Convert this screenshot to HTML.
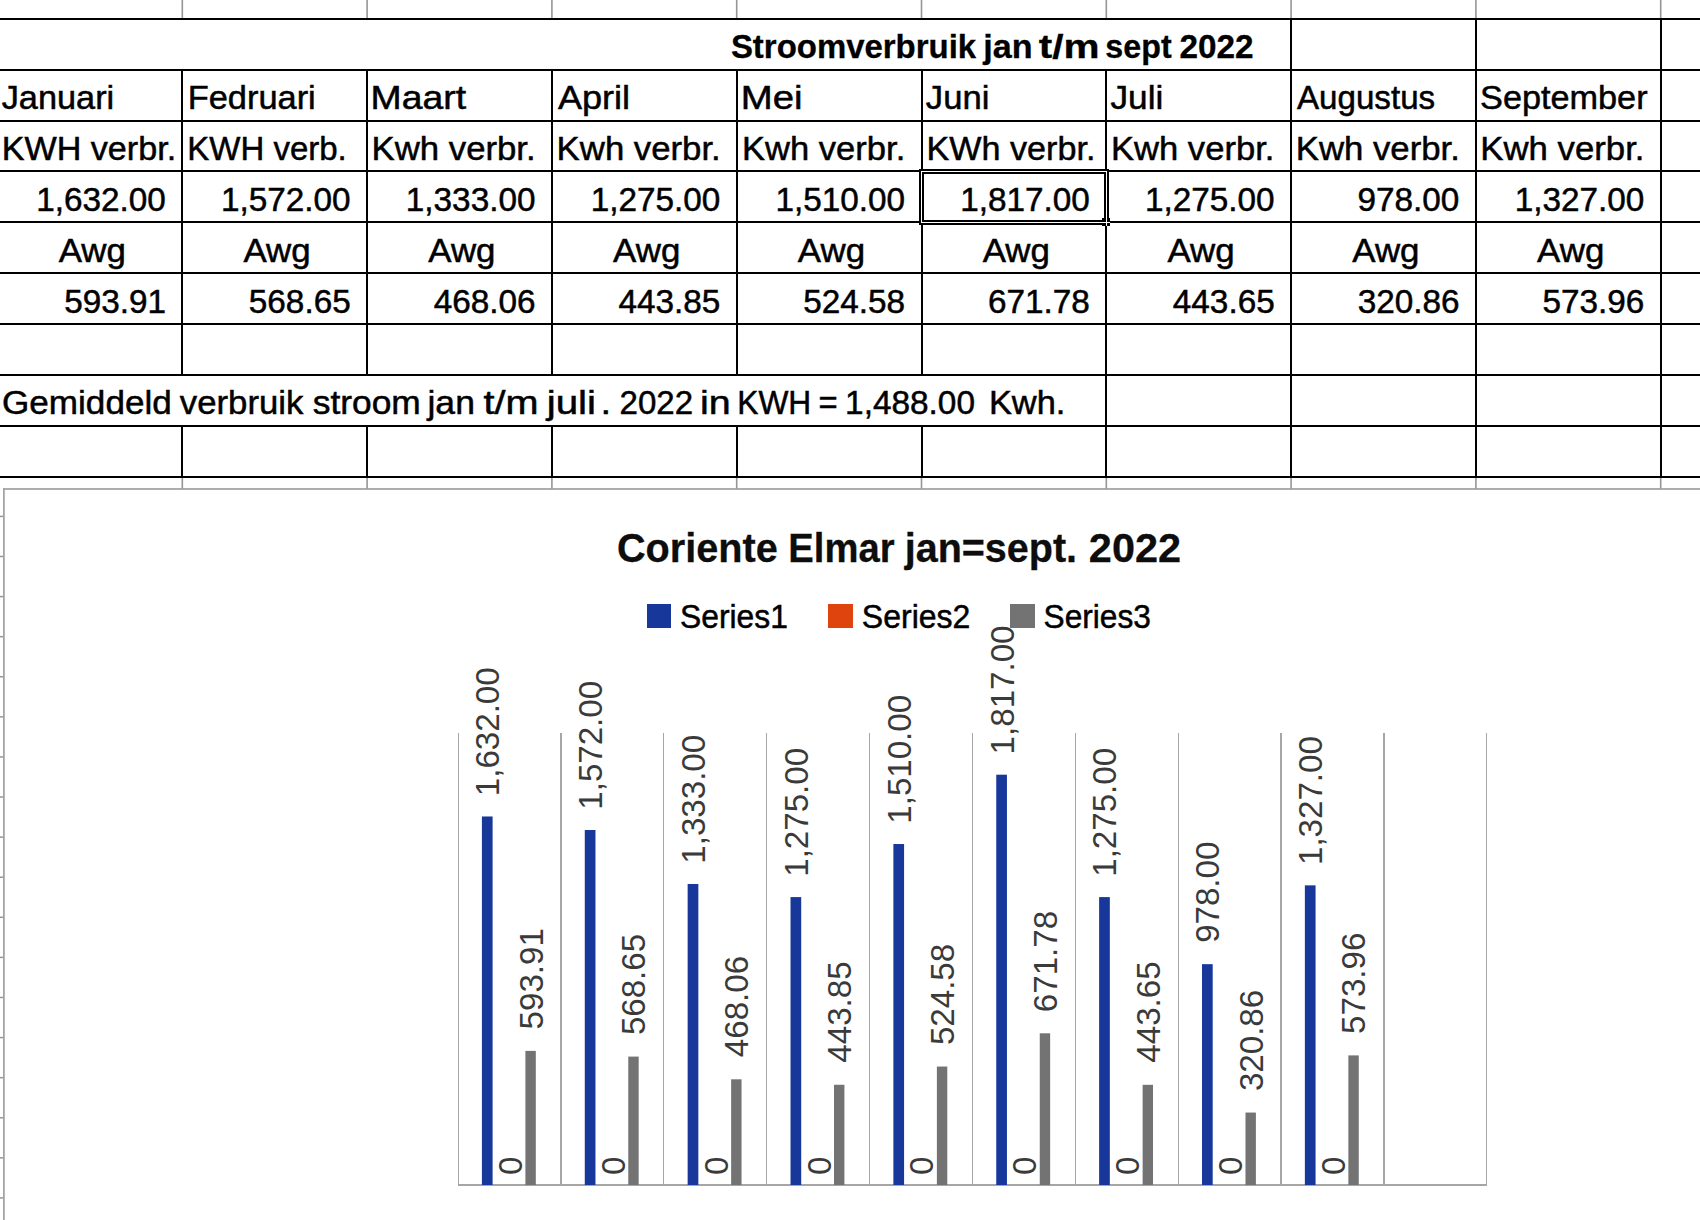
<!DOCTYPE html>
<html><head><meta charset="utf-8"><style>
html,body{margin:0;padding:0;background:#fff;width:1700px;height:1220px;overflow:hidden}
svg{display:block;font-family:"Liberation Sans",sans-serif}
</style></head><body>
<svg width="1700" height="1220" viewBox="0 0 1700 1220" shape-rendering="crispEdges">
<rect x="181.50" y="0.00" width="1.60" height="18.90" fill="#969696" shape-rendering="geometricPrecision"/>
<rect x="366.30" y="0.00" width="1.60" height="18.90" fill="#969696" shape-rendering="geometricPrecision"/>
<rect x="551.10" y="0.00" width="1.60" height="18.90" fill="#969696" shape-rendering="geometricPrecision"/>
<rect x="735.90" y="0.00" width="1.60" height="18.90" fill="#969696" shape-rendering="geometricPrecision"/>
<rect x="920.70" y="0.00" width="1.60" height="18.90" fill="#969696" shape-rendering="geometricPrecision"/>
<rect x="1105.50" y="0.00" width="1.60" height="18.90" fill="#969696" shape-rendering="geometricPrecision"/>
<rect x="1290.30" y="0.00" width="1.60" height="18.90" fill="#969696" shape-rendering="geometricPrecision"/>
<rect x="1475.10" y="0.00" width="1.60" height="18.90" fill="#969696" shape-rendering="geometricPrecision"/>
<rect x="1659.90" y="0.00" width="1.60" height="18.90" fill="#969696" shape-rendering="geometricPrecision"/>
<rect x="181.50" y="476.64" width="1.60" height="12.36" fill="#969696" shape-rendering="geometricPrecision"/>
<rect x="366.30" y="476.64" width="1.60" height="12.36" fill="#969696" shape-rendering="geometricPrecision"/>
<rect x="551.10" y="476.64" width="1.60" height="12.36" fill="#969696" shape-rendering="geometricPrecision"/>
<rect x="735.90" y="476.64" width="1.60" height="12.36" fill="#969696" shape-rendering="geometricPrecision"/>
<rect x="920.70" y="476.64" width="1.60" height="12.36" fill="#969696" shape-rendering="geometricPrecision"/>
<rect x="1105.50" y="476.64" width="1.60" height="12.36" fill="#969696" shape-rendering="geometricPrecision"/>
<rect x="1290.30" y="476.64" width="1.60" height="12.36" fill="#969696" shape-rendering="geometricPrecision"/>
<rect x="1475.10" y="476.64" width="1.60" height="12.36" fill="#969696" shape-rendering="geometricPrecision"/>
<rect x="1659.90" y="476.64" width="1.60" height="12.36" fill="#969696" shape-rendering="geometricPrecision"/>
<rect x="0.00" y="17.90" width="1700.00" height="2.00" fill="#000"/>
<rect x="0.00" y="68.76" width="1700.00" height="2.00" fill="#000"/>
<rect x="0.00" y="119.62" width="1700.00" height="2.00" fill="#000"/>
<rect x="0.00" y="170.48" width="1700.00" height="2.00" fill="#000"/>
<rect x="0.00" y="221.34" width="1700.00" height="2.00" fill="#000"/>
<rect x="0.00" y="272.20" width="1700.00" height="2.00" fill="#000"/>
<rect x="0.00" y="323.06" width="1700.00" height="2.00" fill="#000"/>
<rect x="0.00" y="373.92" width="1700.00" height="2.00" fill="#000"/>
<rect x="0.00" y="424.78" width="1700.00" height="2.00" fill="#000"/>
<rect x="0.00" y="475.64" width="1700.00" height="2.00" fill="#000"/>
<rect x="181.30" y="69.76" width="2.00" height="305.16" fill="#000"/>
<rect x="181.30" y="425.78" width="2.00" height="50.86" fill="#000"/>
<rect x="366.10" y="69.76" width="2.00" height="305.16" fill="#000"/>
<rect x="366.10" y="425.78" width="2.00" height="50.86" fill="#000"/>
<rect x="550.90" y="69.76" width="2.00" height="305.16" fill="#000"/>
<rect x="550.90" y="425.78" width="2.00" height="50.86" fill="#000"/>
<rect x="735.70" y="69.76" width="2.00" height="305.16" fill="#000"/>
<rect x="735.70" y="425.78" width="2.00" height="50.86" fill="#000"/>
<rect x="920.50" y="69.76" width="2.00" height="305.16" fill="#000"/>
<rect x="920.50" y="425.78" width="2.00" height="50.86" fill="#000"/>
<rect x="1105.30" y="69.76" width="2.00" height="305.16" fill="#000"/>
<rect x="1105.30" y="374.92" width="2.00" height="50.86" fill="#000"/>
<rect x="1105.30" y="425.78" width="2.00" height="50.86" fill="#000"/>
<rect x="1290.10" y="18.90" width="2.00" height="50.86" fill="#000"/>
<rect x="1290.10" y="69.76" width="2.00" height="305.16" fill="#000"/>
<rect x="1290.10" y="374.92" width="2.00" height="50.86" fill="#000"/>
<rect x="1290.10" y="425.78" width="2.00" height="50.86" fill="#000"/>
<rect x="1474.90" y="18.90" width="2.00" height="50.86" fill="#000"/>
<rect x="1474.90" y="69.76" width="2.00" height="305.16" fill="#000"/>
<rect x="1474.90" y="374.92" width="2.00" height="50.86" fill="#000"/>
<rect x="1474.90" y="425.78" width="2.00" height="50.86" fill="#000"/>
<rect x="1659.70" y="18.90" width="2.00" height="50.86" fill="#000"/>
<rect x="1659.70" y="69.76" width="2.00" height="305.16" fill="#000"/>
<rect x="1659.70" y="374.92" width="2.00" height="50.86" fill="#000"/>
<rect x="1659.70" y="425.78" width="2.00" height="50.86" fill="#000"/>
<text x="730.91" y="58.10" font-size="33.50" font-weight="bold" fill="#000" stroke="#000" stroke-width="0.3" textLength="245.23" lengthAdjust="spacingAndGlyphs">Stroomverbruik</text>
<text x="983.31" y="58.10" font-size="33.50" font-weight="bold" fill="#000" stroke="#000" stroke-width="0.3" textLength="49.33" lengthAdjust="spacingAndGlyphs">jan</text>
<text x="1038.69" y="58.10" font-size="33.50" font-weight="bold" fill="#000" stroke="#000" stroke-width="0.3" textLength="60.84" lengthAdjust="spacingAndGlyphs">t/m</text>
<text x="1105.37" y="58.10" font-size="33.50" font-weight="bold" fill="#000" stroke="#000" stroke-width="0.3" textLength="66.29" lengthAdjust="spacingAndGlyphs">sept</text>
<text x="1179.53" y="58.10" font-size="33.50" font-weight="bold" fill="#000" stroke="#000" stroke-width="0.3" textLength="74.09" lengthAdjust="spacingAndGlyphs">2022</text>
<text x="1.69" y="109.00" font-size="33.30" font-weight="normal" fill="#000" stroke="#000" stroke-width="0.5" textLength="112.54" lengthAdjust="spacingAndGlyphs">Januari</text>
<text x="187.65" y="109.00" font-size="33.30" font-weight="normal" fill="#000" stroke="#000" stroke-width="0.5" textLength="128.12" lengthAdjust="spacingAndGlyphs">Fedruari</text>
<text x="370.61" y="109.00" font-size="33.30" font-weight="normal" fill="#000" stroke="#000" stroke-width="0.5" textLength="95.42" lengthAdjust="spacingAndGlyphs">Maart</text>
<text x="557.90" y="109.00" font-size="33.30" font-weight="normal" fill="#000" stroke="#000" stroke-width="0.5" textLength="72.27" lengthAdjust="spacingAndGlyphs">April</text>
<text x="740.73" y="109.00" font-size="33.30" font-weight="normal" fill="#000" stroke="#000" stroke-width="0.5" textLength="61.82" lengthAdjust="spacingAndGlyphs">Mei</text>
<text x="925.88" y="109.00" font-size="33.30" font-weight="normal" fill="#000" stroke="#000" stroke-width="0.5" textLength="63.53" lengthAdjust="spacingAndGlyphs">Juni</text>
<text x="1110.47" y="109.00" font-size="33.30" font-weight="normal" fill="#000" stroke="#000" stroke-width="0.5" textLength="52.84" lengthAdjust="spacingAndGlyphs">Juli</text>
<text x="1297.00" y="109.00" font-size="33.30" font-weight="normal" fill="#000" stroke="#000" stroke-width="0.5" textLength="138.14" lengthAdjust="spacingAndGlyphs">Augustus</text>
<text x="1480.06" y="109.00" font-size="33.30" font-weight="normal" fill="#000" stroke="#000" stroke-width="0.5" textLength="167.52" lengthAdjust="spacingAndGlyphs">September</text>
<text x="1.67" y="159.90" font-size="33.30" font-weight="normal" fill="#000" stroke="#000" stroke-width="0.5" textLength="174.47" lengthAdjust="spacingAndGlyphs">KWH verbr.</text>
<text x="187.26" y="159.90" font-size="33.30" font-weight="normal" fill="#000" stroke="#000" stroke-width="0.5" textLength="159.54" lengthAdjust="spacingAndGlyphs">KWH verb.</text>
<text x="371.52" y="159.90" font-size="33.30" font-weight="normal" fill="#000" stroke="#000" stroke-width="0.5" textLength="164.16" lengthAdjust="spacingAndGlyphs">Kwh verbr.</text>
<text x="556.62" y="159.90" font-size="33.30" font-weight="normal" fill="#000" stroke="#000" stroke-width="0.5" textLength="164.16" lengthAdjust="spacingAndGlyphs">Kwh verbr.</text>
<text x="742.04" y="159.90" font-size="33.30" font-weight="normal" fill="#000" stroke="#000" stroke-width="0.5" textLength="163.22" lengthAdjust="spacingAndGlyphs">Kwh verbr.</text>
<text x="926.57" y="159.90" font-size="33.30" font-weight="normal" fill="#000" stroke="#000" stroke-width="0.5" textLength="168.84" lengthAdjust="spacingAndGlyphs">KWh verbr.</text>
<text x="1110.93" y="159.90" font-size="33.30" font-weight="normal" fill="#000" stroke="#000" stroke-width="0.5" textLength="163.53" lengthAdjust="spacingAndGlyphs">Kwh verbr.</text>
<text x="1295.72" y="159.90" font-size="33.30" font-weight="normal" fill="#000" stroke="#000" stroke-width="0.5" textLength="164.16" lengthAdjust="spacingAndGlyphs">Kwh verbr.</text>
<text x="1480.22" y="159.90" font-size="33.30" font-weight="normal" fill="#000" stroke="#000" stroke-width="0.5" textLength="164.26" lengthAdjust="spacingAndGlyphs">Kwh verbr.</text>
<text x="36.23" y="210.80" font-size="33.30" font-weight="normal" fill="#000" stroke="#000" stroke-width="0.5" textLength="129.63" lengthAdjust="spacingAndGlyphs">1,632.00</text>
<text x="221.03" y="210.80" font-size="33.30" font-weight="normal" fill="#000" stroke="#000" stroke-width="0.5" textLength="129.63" lengthAdjust="spacingAndGlyphs">1,572.00</text>
<text x="405.83" y="210.80" font-size="33.30" font-weight="normal" fill="#000" stroke="#000" stroke-width="0.5" textLength="129.63" lengthAdjust="spacingAndGlyphs">1,333.00</text>
<text x="590.63" y="210.80" font-size="33.30" font-weight="normal" fill="#000" stroke="#000" stroke-width="0.5" textLength="129.63" lengthAdjust="spacingAndGlyphs">1,275.00</text>
<text x="775.43" y="210.80" font-size="33.30" font-weight="normal" fill="#000" stroke="#000" stroke-width="0.5" textLength="129.63" lengthAdjust="spacingAndGlyphs">1,510.00</text>
<text x="960.23" y="210.80" font-size="33.30" font-weight="normal" fill="#000" stroke="#000" stroke-width="0.5" textLength="129.63" lengthAdjust="spacingAndGlyphs">1,817.00</text>
<text x="1145.03" y="210.80" font-size="33.30" font-weight="normal" fill="#000" stroke="#000" stroke-width="0.5" textLength="129.63" lengthAdjust="spacingAndGlyphs">1,275.00</text>
<text x="1357.47" y="210.80" font-size="33.30" font-weight="normal" fill="#000" stroke="#000" stroke-width="0.5" textLength="101.85" lengthAdjust="spacingAndGlyphs">978.00</text>
<text x="1514.63" y="210.80" font-size="33.30" font-weight="normal" fill="#000" stroke="#000" stroke-width="0.5" textLength="129.63" lengthAdjust="spacingAndGlyphs">1,327.00</text>
<text x="58.68" y="261.70" font-size="33.30" font-weight="normal" fill="#000" stroke="#000" stroke-width="0.5" textLength="67.20" lengthAdjust="spacingAndGlyphs">Awg</text>
<text x="243.48" y="261.70" font-size="33.30" font-weight="normal" fill="#000" stroke="#000" stroke-width="0.5" textLength="67.20" lengthAdjust="spacingAndGlyphs">Awg</text>
<text x="428.28" y="261.70" font-size="33.30" font-weight="normal" fill="#000" stroke="#000" stroke-width="0.5" textLength="67.20" lengthAdjust="spacingAndGlyphs">Awg</text>
<text x="613.08" y="261.70" font-size="33.30" font-weight="normal" fill="#000" stroke="#000" stroke-width="0.5" textLength="67.20" lengthAdjust="spacingAndGlyphs">Awg</text>
<text x="797.88" y="261.70" font-size="33.30" font-weight="normal" fill="#000" stroke="#000" stroke-width="0.5" textLength="67.20" lengthAdjust="spacingAndGlyphs">Awg</text>
<text x="982.68" y="261.70" font-size="33.30" font-weight="normal" fill="#000" stroke="#000" stroke-width="0.5" textLength="67.20" lengthAdjust="spacingAndGlyphs">Awg</text>
<text x="1167.48" y="261.70" font-size="33.30" font-weight="normal" fill="#000" stroke="#000" stroke-width="0.5" textLength="67.20" lengthAdjust="spacingAndGlyphs">Awg</text>
<text x="1352.28" y="261.70" font-size="33.30" font-weight="normal" fill="#000" stroke="#000" stroke-width="0.5" textLength="67.20" lengthAdjust="spacingAndGlyphs">Awg</text>
<text x="1537.08" y="261.70" font-size="33.30" font-weight="normal" fill="#000" stroke="#000" stroke-width="0.5" textLength="67.20" lengthAdjust="spacingAndGlyphs">Awg</text>
<text x="64.20" y="312.60" font-size="33.30" font-weight="normal" fill="#000" stroke="#000" stroke-width="0.5" textLength="101.85" lengthAdjust="spacingAndGlyphs">593.91</text>
<text x="248.83" y="312.60" font-size="33.30" font-weight="normal" fill="#000" stroke="#000" stroke-width="0.5" textLength="101.85" lengthAdjust="spacingAndGlyphs">568.65</text>
<text x="433.63" y="312.60" font-size="33.30" font-weight="normal" fill="#000" stroke="#000" stroke-width="0.5" textLength="101.85" lengthAdjust="spacingAndGlyphs">468.06</text>
<text x="618.43" y="312.60" font-size="33.30" font-weight="normal" fill="#000" stroke="#000" stroke-width="0.5" textLength="101.85" lengthAdjust="spacingAndGlyphs">443.85</text>
<text x="803.23" y="312.60" font-size="33.30" font-weight="normal" fill="#000" stroke="#000" stroke-width="0.5" textLength="101.85" lengthAdjust="spacingAndGlyphs">524.58</text>
<text x="988.03" y="312.60" font-size="33.30" font-weight="normal" fill="#000" stroke="#000" stroke-width="0.5" textLength="101.85" lengthAdjust="spacingAndGlyphs">671.78</text>
<text x="1172.83" y="312.60" font-size="33.30" font-weight="normal" fill="#000" stroke="#000" stroke-width="0.5" textLength="101.85" lengthAdjust="spacingAndGlyphs">443.65</text>
<text x="1357.63" y="312.60" font-size="33.30" font-weight="normal" fill="#000" stroke="#000" stroke-width="0.5" textLength="101.85" lengthAdjust="spacingAndGlyphs">320.86</text>
<text x="1542.43" y="312.60" font-size="33.30" font-weight="normal" fill="#000" stroke="#000" stroke-width="0.5" textLength="101.85" lengthAdjust="spacingAndGlyphs">573.96</text>
<text x="2.05" y="414.40" font-size="33.30" font-weight="normal" fill="#000" stroke="#000" stroke-width="0.5" textLength="169.67" lengthAdjust="spacingAndGlyphs">Gemiddeld</text>
<text x="179.83" y="414.40" font-size="33.30" font-weight="normal" fill="#000" stroke="#000" stroke-width="0.5" textLength="123.54" lengthAdjust="spacingAndGlyphs">verbruik</text>
<text x="312.74" y="414.40" font-size="33.30" font-weight="normal" fill="#000" stroke="#000" stroke-width="0.5" textLength="108.03" lengthAdjust="spacingAndGlyphs">stroom</text>
<text x="427.49" y="414.40" font-size="33.30" font-weight="normal" fill="#000" stroke="#000" stroke-width="0.5" textLength="47.40" lengthAdjust="spacingAndGlyphs">jan</text>
<text x="483.61" y="414.40" font-size="33.30" font-weight="normal" fill="#000" stroke="#000" stroke-width="0.5" textLength="55.02" lengthAdjust="spacingAndGlyphs">t/m</text>
<text x="546.71" y="414.40" font-size="33.30" font-weight="normal" fill="#000" stroke="#000" stroke-width="0.5" textLength="49.32" lengthAdjust="spacingAndGlyphs">juli</text>
<text x="619.55" y="414.40" font-size="33.30" font-weight="normal" fill="#000" stroke="#000" stroke-width="0.5" textLength="73.60" lengthAdjust="spacingAndGlyphs">2022</text>
<text x="700.14" y="414.40" font-size="33.30" font-weight="normal" fill="#000" stroke="#000" stroke-width="0.5" textLength="30.65" lengthAdjust="spacingAndGlyphs">in</text>
<text x="737.26" y="414.40" font-size="33.30" font-weight="normal" fill="#000" stroke="#000" stroke-width="0.5" textLength="73.97" lengthAdjust="spacingAndGlyphs">KWH</text>
<text x="818.46" y="414.40" font-size="33.30" font-weight="normal" fill="#000" stroke="#000" stroke-width="0.5" textLength="19.15" lengthAdjust="spacingAndGlyphs">=</text>
<text x="845.10" y="414.40" font-size="33.30" font-weight="normal" fill="#000" stroke="#000" stroke-width="0.5" textLength="129.86" lengthAdjust="spacingAndGlyphs">1,488.00</text>
<text x="988.95" y="414.40" font-size="33.30" font-weight="normal" fill="#000" stroke="#000" stroke-width="0.5" textLength="76.46" lengthAdjust="spacingAndGlyphs">Kwh.</text>
<text x="600.43" y="414.40" font-size="33.30" font-weight="normal" fill="#000" stroke="#000" stroke-width="0.5" textLength="10.64" lengthAdjust="spacingAndGlyphs">.</text>
<rect x="919.00" y="169.00" width="190.00" height="2.00" fill="#000"/>
<rect x="919.00" y="223.00" width="190.00" height="2.00" fill="#000"/>
<rect x="919.00" y="169.00" width="2.00" height="56.00" fill="#000"/>
<rect x="1107.00" y="169.00" width="2.00" height="56.00" fill="#000"/>
<rect x="921.00" y="171.00" width="186.00" height="1.00" fill="#fff"/>
<rect x="921.00" y="222.00" width="186.00" height="1.00" fill="#fff"/>
<rect x="921.00" y="171.00" width="1.00" height="52.00" fill="#fff"/>
<rect x="1106.00" y="171.00" width="1.00" height="52.00" fill="#fff"/>
<rect x="922.00" y="172.00" width="184.00" height="2.00" fill="#000"/>
<rect x="922.00" y="220.00" width="184.00" height="2.00" fill="#000"/>
<rect x="922.00" y="172.00" width="2.00" height="50.00" fill="#000"/>
<rect x="1104.00" y="172.00" width="2.00" height="50.00" fill="#000"/>
<rect x="1102.40" y="218.40" width="8.00" height="8.00" fill="#000"/>
<rect x="1105.90" y="218.40" width="1.00" height="8.00" fill="#fff"/>
<rect x="1102.40" y="221.90" width="8.00" height="1.00" fill="#fff"/>
<rect x="4.00" y="489.00" width="1696.00" height="731.00" fill="#fff"/>
<rect x="3.05" y="488.15" width="1697.00" height="1.70" fill="#a0a0a0" shape-rendering="geometricPrecision"/>
<rect x="3.05" y="488.15" width="1.70" height="732.00" fill="#a0a0a0" shape-rendering="geometricPrecision"/>
<rect x="0.00" y="515.65" width="3.05" height="1.50" fill="#969696" shape-rendering="geometricPrecision"/>
<rect x="0.00" y="555.74" width="3.05" height="1.50" fill="#969696" shape-rendering="geometricPrecision"/>
<rect x="0.00" y="595.83" width="3.05" height="1.50" fill="#969696" shape-rendering="geometricPrecision"/>
<rect x="0.00" y="635.92" width="3.05" height="1.50" fill="#969696" shape-rendering="geometricPrecision"/>
<rect x="0.00" y="676.01" width="3.05" height="1.50" fill="#969696" shape-rendering="geometricPrecision"/>
<rect x="0.00" y="716.10" width="3.05" height="1.50" fill="#969696" shape-rendering="geometricPrecision"/>
<rect x="0.00" y="756.19" width="3.05" height="1.50" fill="#969696" shape-rendering="geometricPrecision"/>
<rect x="0.00" y="796.28" width="3.05" height="1.50" fill="#969696" shape-rendering="geometricPrecision"/>
<rect x="0.00" y="836.37" width="3.05" height="1.50" fill="#969696" shape-rendering="geometricPrecision"/>
<rect x="0.00" y="876.46" width="3.05" height="1.50" fill="#969696" shape-rendering="geometricPrecision"/>
<rect x="0.00" y="916.55" width="3.05" height="1.50" fill="#969696" shape-rendering="geometricPrecision"/>
<rect x="0.00" y="956.64" width="3.05" height="1.50" fill="#969696" shape-rendering="geometricPrecision"/>
<rect x="0.00" y="996.73" width="3.05" height="1.50" fill="#969696" shape-rendering="geometricPrecision"/>
<rect x="0.00" y="1036.82" width="3.05" height="1.50" fill="#969696" shape-rendering="geometricPrecision"/>
<rect x="0.00" y="1076.91" width="3.05" height="1.50" fill="#969696" shape-rendering="geometricPrecision"/>
<rect x="0.00" y="1117.00" width="3.05" height="1.50" fill="#969696" shape-rendering="geometricPrecision"/>
<rect x="0.00" y="1157.09" width="3.05" height="1.50" fill="#969696" shape-rendering="geometricPrecision"/>
<rect x="0.00" y="1197.18" width="3.05" height="1.50" fill="#969696" shape-rendering="geometricPrecision"/>
<text x="616.91" y="562.00" font-size="40.00" font-weight="bold" fill="#0d0d0d" stroke="#0d0d0d" stroke-width="0.3" textLength="160.82" lengthAdjust="spacingAndGlyphs">Coriente</text>
<text x="788.32" y="562.00" font-size="40.00" font-weight="bold" fill="#0d0d0d" stroke="#0d0d0d" stroke-width="0.3" textLength="106.23" lengthAdjust="spacingAndGlyphs">Elmar</text>
<text x="904.69" y="562.00" font-size="40.00" font-weight="bold" fill="#0d0d0d" stroke="#0d0d0d" stroke-width="0.3" textLength="172.39" lengthAdjust="spacingAndGlyphs">jan=sept.</text>
<text x="1088.85" y="562.00" font-size="40.00" font-weight="bold" fill="#0d0d0d" stroke="#0d0d0d" stroke-width="0.3" textLength="92.20" lengthAdjust="spacingAndGlyphs">2022</text>
<rect x="457.50" y="733.20" width="1.20" height="451.80" fill="#a6a6a6"/>
<rect x="560.37" y="733.20" width="1.20" height="451.80" fill="#a6a6a6"/>
<rect x="663.24" y="733.20" width="1.20" height="451.80" fill="#a6a6a6"/>
<rect x="766.11" y="733.20" width="1.20" height="451.80" fill="#a6a6a6"/>
<rect x="868.98" y="733.20" width="1.20" height="451.80" fill="#a6a6a6"/>
<rect x="971.85" y="733.20" width="1.20" height="451.80" fill="#a6a6a6"/>
<rect x="1074.72" y="733.20" width="1.20" height="451.80" fill="#a6a6a6"/>
<rect x="1177.59" y="733.20" width="1.20" height="451.80" fill="#a6a6a6"/>
<rect x="1280.46" y="733.20" width="1.20" height="451.80" fill="#a6a6a6"/>
<rect x="1383.33" y="733.20" width="1.20" height="451.80" fill="#a6a6a6"/>
<rect x="1486.20" y="733.20" width="1.20" height="451.80" fill="#a6a6a6"/>
<rect x="457.50" y="1184.30" width="1029.90" height="1.40" fill="#a6a6a6"/>
<rect x="481.90" y="816.48" width="10.70" height="368.52" fill="#17379b" shape-rendering="geometricPrecision"/>
<rect x="525.40" y="1050.89" width="10.40" height="134.11" fill="#737373" shape-rendering="geometricPrecision"/>
<rect x="584.77" y="830.02" width="10.70" height="354.98" fill="#17379b" shape-rendering="geometricPrecision"/>
<rect x="628.27" y="1056.59" width="10.40" height="128.41" fill="#737373" shape-rendering="geometricPrecision"/>
<rect x="687.64" y="883.99" width="10.70" height="301.01" fill="#17379b" shape-rendering="geometricPrecision"/>
<rect x="731.14" y="1079.31" width="10.40" height="105.69" fill="#737373" shape-rendering="geometricPrecision"/>
<rect x="790.51" y="897.09" width="10.70" height="287.91" fill="#17379b" shape-rendering="geometricPrecision"/>
<rect x="834.01" y="1084.77" width="10.40" height="100.23" fill="#737373" shape-rendering="geometricPrecision"/>
<rect x="893.38" y="844.02" width="10.70" height="340.98" fill="#17379b" shape-rendering="geometricPrecision"/>
<rect x="936.88" y="1066.54" width="10.40" height="118.46" fill="#737373" shape-rendering="geometricPrecision"/>
<rect x="996.25" y="774.70" width="10.70" height="410.30" fill="#17379b" shape-rendering="geometricPrecision"/>
<rect x="1039.75" y="1033.30" width="10.40" height="151.70" fill="#737373" shape-rendering="geometricPrecision"/>
<rect x="1099.12" y="897.09" width="10.70" height="287.91" fill="#17379b" shape-rendering="geometricPrecision"/>
<rect x="1142.62" y="1084.82" width="10.40" height="100.18" fill="#737373" shape-rendering="geometricPrecision"/>
<rect x="1201.99" y="964.16" width="10.70" height="220.84" fill="#17379b" shape-rendering="geometricPrecision"/>
<rect x="1245.49" y="1112.55" width="10.40" height="72.45" fill="#737373" shape-rendering="geometricPrecision"/>
<rect x="1304.86" y="885.35" width="10.70" height="299.65" fill="#17379b" shape-rendering="geometricPrecision"/>
<rect x="1348.36" y="1055.39" width="10.40" height="129.61" fill="#737373" shape-rendering="geometricPrecision"/>
<text x="0" y="0" transform="translate(499.15,796.16) rotate(-90)" font-size="33.10" fill="#3a3a3a" textLength="128.85" lengthAdjust="spacingAndGlyphs">1,632.00</text>
<text x="0" y="0" transform="translate(542.50,1029.41) rotate(-90)" font-size="33.10" fill="#3a3a3a" textLength="101.24" lengthAdjust="spacingAndGlyphs">593.91</text>
<text x="0" y="0" transform="translate(521.90,1174.92) rotate(-90)" font-size="33.10" fill="#3a3a3a" textLength="18.41" lengthAdjust="spacingAndGlyphs">0</text>
<text x="0" y="0" transform="translate(602.02,809.71) rotate(-90)" font-size="33.10" fill="#3a3a3a" textLength="128.85" lengthAdjust="spacingAndGlyphs">1,572.00</text>
<text x="0" y="0" transform="translate(645.37,1035.12) rotate(-90)" font-size="33.10" fill="#3a3a3a" textLength="101.24" lengthAdjust="spacingAndGlyphs">568.65</text>
<text x="0" y="0" transform="translate(624.77,1174.92) rotate(-90)" font-size="33.10" fill="#3a3a3a" textLength="18.41" lengthAdjust="spacingAndGlyphs">0</text>
<text x="0" y="0" transform="translate(704.89,863.68) rotate(-90)" font-size="33.10" fill="#3a3a3a" textLength="128.85" lengthAdjust="spacingAndGlyphs">1,333.00</text>
<text x="0" y="0" transform="translate(748.24,1057.17) rotate(-90)" font-size="33.10" fill="#3a3a3a" textLength="101.24" lengthAdjust="spacingAndGlyphs">468.06</text>
<text x="0" y="0" transform="translate(727.64,1174.92) rotate(-90)" font-size="33.10" fill="#3a3a3a" textLength="18.41" lengthAdjust="spacingAndGlyphs">0</text>
<text x="0" y="0" transform="translate(807.76,876.77) rotate(-90)" font-size="33.10" fill="#3a3a3a" textLength="128.85" lengthAdjust="spacingAndGlyphs">1,275.00</text>
<text x="0" y="0" transform="translate(851.11,1062.64) rotate(-90)" font-size="33.10" fill="#3a3a3a" textLength="101.24" lengthAdjust="spacingAndGlyphs">443.85</text>
<text x="0" y="0" transform="translate(830.51,1174.92) rotate(-90)" font-size="33.10" fill="#3a3a3a" textLength="18.41" lengthAdjust="spacingAndGlyphs">0</text>
<text x="0" y="0" transform="translate(910.63,823.71) rotate(-90)" font-size="33.10" fill="#3a3a3a" textLength="128.85" lengthAdjust="spacingAndGlyphs">1,510.00</text>
<text x="0" y="0" transform="translate(953.98,1045.07) rotate(-90)" font-size="33.10" fill="#3a3a3a" textLength="101.24" lengthAdjust="spacingAndGlyphs">524.58</text>
<text x="0" y="0" transform="translate(933.38,1174.92) rotate(-90)" font-size="33.10" fill="#3a3a3a" textLength="18.41" lengthAdjust="spacingAndGlyphs">0</text>
<text x="0" y="0" transform="translate(1013.50,754.38) rotate(-90)" font-size="33.10" fill="#3a3a3a" textLength="128.85" lengthAdjust="spacingAndGlyphs">1,817.00</text>
<text x="0" y="0" transform="translate(1056.85,1012.16) rotate(-90)" font-size="33.10" fill="#3a3a3a" textLength="101.24" lengthAdjust="spacingAndGlyphs">671.78</text>
<text x="0" y="0" transform="translate(1036.25,1174.92) rotate(-90)" font-size="33.10" fill="#3a3a3a" textLength="18.41" lengthAdjust="spacingAndGlyphs">0</text>
<text x="0" y="0" transform="translate(1116.37,876.77) rotate(-90)" font-size="33.10" fill="#3a3a3a" textLength="128.85" lengthAdjust="spacingAndGlyphs">1,275.00</text>
<text x="0" y="0" transform="translate(1159.72,1062.68) rotate(-90)" font-size="33.10" fill="#3a3a3a" textLength="101.24" lengthAdjust="spacingAndGlyphs">443.65</text>
<text x="0" y="0" transform="translate(1139.12,1174.92) rotate(-90)" font-size="33.10" fill="#3a3a3a" textLength="18.41" lengthAdjust="spacingAndGlyphs">0</text>
<text x="0" y="0" transform="translate(1219.24,942.85) rotate(-90)" font-size="33.10" fill="#3a3a3a" textLength="101.24" lengthAdjust="spacingAndGlyphs">978.00</text>
<text x="0" y="0" transform="translate(1262.59,1091.07) rotate(-90)" font-size="33.10" fill="#3a3a3a" textLength="101.24" lengthAdjust="spacingAndGlyphs">320.86</text>
<text x="0" y="0" transform="translate(1241.99,1174.92) rotate(-90)" font-size="33.10" fill="#3a3a3a" textLength="18.41" lengthAdjust="spacingAndGlyphs">0</text>
<text x="0" y="0" transform="translate(1322.11,865.03) rotate(-90)" font-size="33.10" fill="#3a3a3a" textLength="128.85" lengthAdjust="spacingAndGlyphs">1,327.00</text>
<text x="0" y="0" transform="translate(1365.46,1033.92) rotate(-90)" font-size="33.10" fill="#3a3a3a" textLength="101.24" lengthAdjust="spacingAndGlyphs">573.96</text>
<text x="0" y="0" transform="translate(1344.86,1174.92) rotate(-90)" font-size="33.10" fill="#3a3a3a" textLength="18.41" lengthAdjust="spacingAndGlyphs">0</text>
<rect x="646.60" y="603.80" width="24.70" height="24.30" fill="#17379b"/>
<rect x="828.30" y="603.80" width="24.80" height="24.30" fill="#e0440e"/>
<rect x="1010.40" y="603.80" width="24.20" height="24.10" fill="#737373"/>
<text x="679.97" y="628.10" font-size="33.00" font-weight="normal" fill="#000" stroke="#000" stroke-width="0.5" textLength="107.89" lengthAdjust="spacingAndGlyphs">Series1</text>
<text x="861.86" y="628.10" font-size="33.00" font-weight="normal" fill="#000" stroke="#000" stroke-width="0.5" textLength="108.46" lengthAdjust="spacingAndGlyphs">Series2</text>
<text x="1043.58" y="628.10" font-size="33.00" font-weight="normal" fill="#000" stroke="#000" stroke-width="0.5" textLength="107.31" lengthAdjust="spacingAndGlyphs">Series3</text>
</svg>
</body></html>
